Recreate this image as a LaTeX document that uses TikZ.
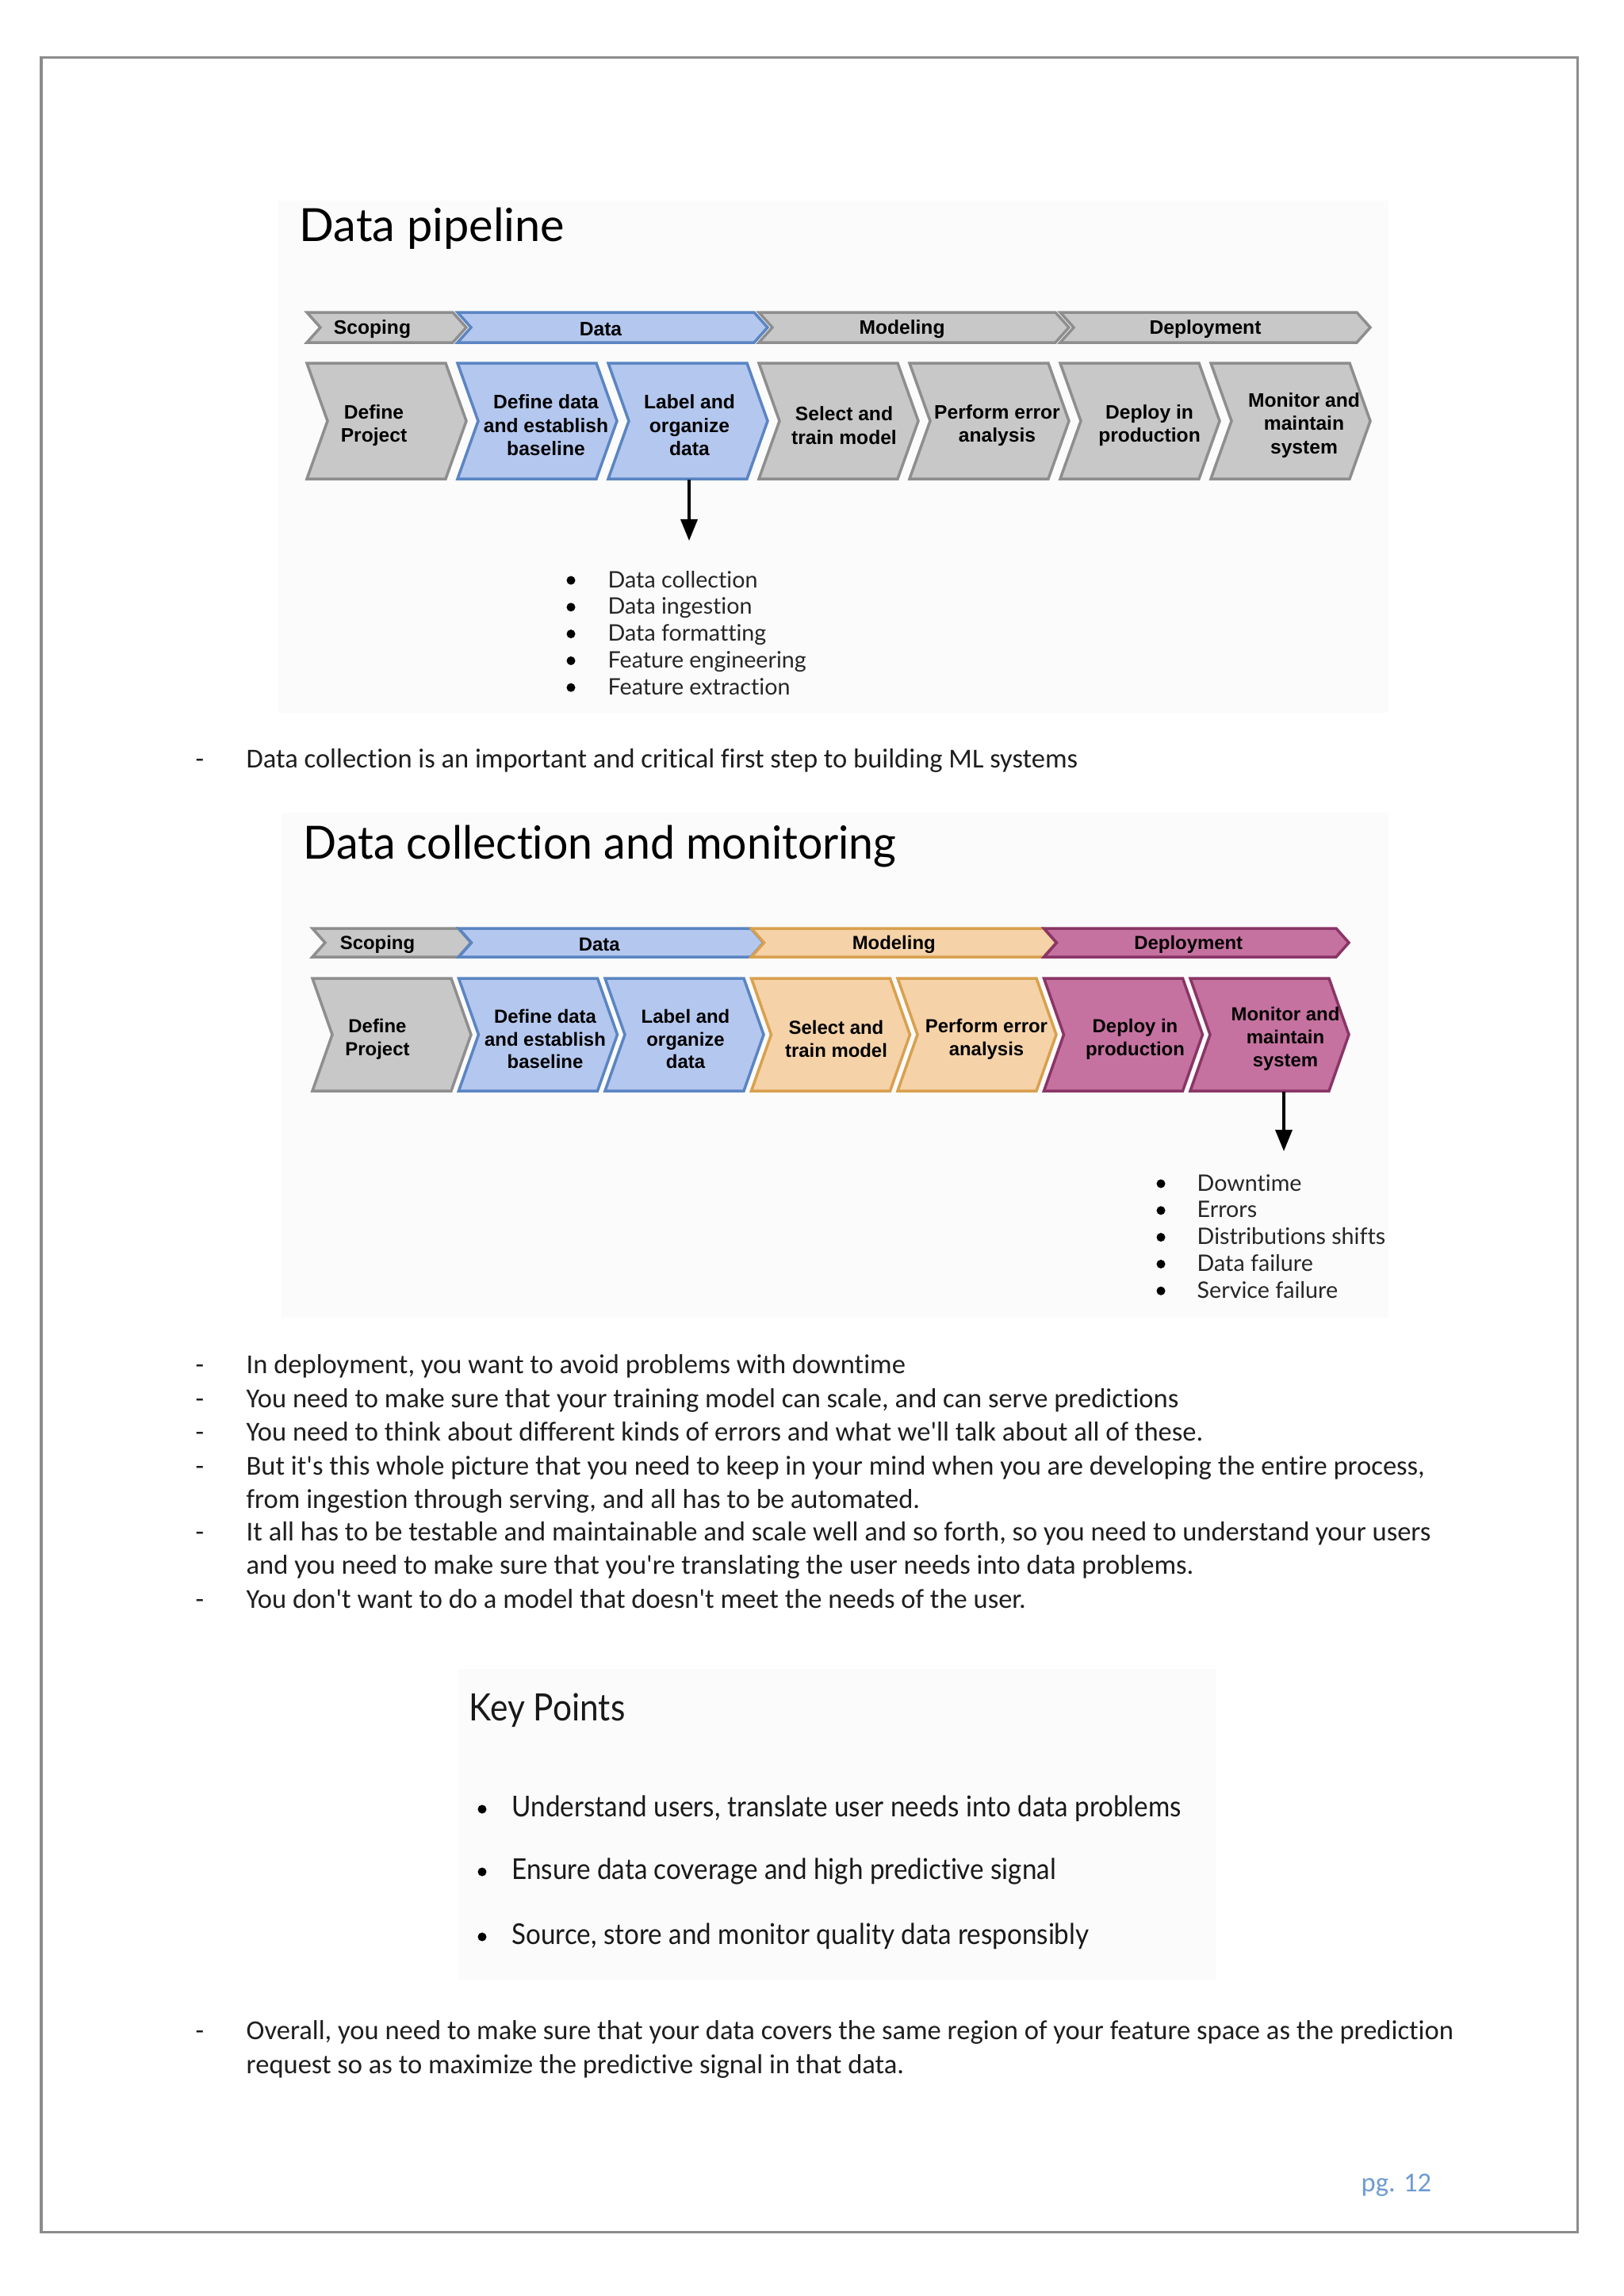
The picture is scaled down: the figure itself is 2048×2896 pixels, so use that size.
\documentclass[tikz,border=0pt]{standalone}
\usepackage{fontspec}
\defaultfontfeatures{Ligatures=CommonOff}
\setmainfont{Carlito}
\newfontfamily\latofont{Lato}
\newfontfamily\latotitle{Lato}[FakeStretch=0.96]
\newfontfamily\latocond{Lato}[FakeStretch=0.894]
\newfontfamily\latokey{Lato}[FakeStretch=0.916]
\newfontfamily\arialfont{Liberation Sans}
\usetikzlibrary{arrows.meta}

\definecolor{grayfill}{HTML}{C8C8C8}
\definecolor{grayline}{HTML}{8E8E8E}
\definecolor{bluefill}{HTML}{B4C7EE}
\definecolor{blueline}{HTML}{5B85C2}
\definecolor{orangefill}{HTML}{F5D2A8}
\definecolor{orangeline}{HTML}{D9A04E}
\definecolor{magfill}{HTML}{C672A0}
\definecolor{magline}{HTML}{8A3566}
\definecolor{imgbg}{HTML}{FBFBFB}
\definecolor{pageborder}{HTML}{8C8C8C}
\definecolor{pgblue}{HTML}{6E9BD2}
\definecolor{bodytext}{HTML}{1E1E1E}

\newcommand\bodyfont{\fontsize{9.82pt}{12.1pt}\selectfont}
\newcommand\titlefontA{\latofont\fontsize{16.4pt}{20pt}\selectfont}
\newcommand\titlefontB{\latotitle\fontsize{16.4pt}{20pt}\selectfont}
\newcommand\listfont{\latofont\fontsize{8.15pt}{10pt}\selectfont}
\newcommand\chevfontA{\arialfont\bfseries\fontsize{7pt}{8.4pt}\selectfont}
\newcommand\chevfontB{\arialfont\bfseries\fontsize{6.8pt}{8.2pt}\selectfont}
\newcommand\keytitlefont{\latocond\fontsize{13.5pt}{16pt}\selectfont}
\newcommand\keyfont{\latokey\fontsize{10.3pt}{12pt}\selectfont}
\newcommand\ap{\textquotesingle}

% #1 name, #2 left x, #3 top y, #4 width, #5 height, #6 tip depth, #7 shape style, #8 text offset, #9 text
\newcommand\chevron[9]{%
  \path[#7] (#2,#3) -- ++({#4-#6},0) -- ++(#6,{#5/2}) -- ++({-#6},{#5/2}) -- ++({#6-#4},0) -- ++(#6,{-#5/2}) -- cycle;
  \node[chevtext, minimum height={#5*0.01cm}] (#1) at ({#2+#4/2+#8},{#3+#5/2}) {#9};
}

\tikzset{
  grayshape/.style={fill=grayfill, draw=grayline, line width=1pt, line join=miter},
  blueshape/.style={fill=bluefill, draw=blueline, line width=1pt, line join=miter},
  orangeshape/.style={fill=orangefill, draw=orangeline, line width=1pt, line join=miter},
  magshape/.style={fill=magfill, draw=magline, line width=1pt, line join=miter},
  chevtext/.style={inner sep=0pt, align=center, text=black},
  phaserow/.style={chevtext/.append style={yshift=-0.02cm}},
  steprow/.style={chevtext/.append style={yshift=-0.055cm}},
  bodyline/.style={font=\bodyfont, anchor=base west, inner sep=0pt, text=bodytext},
  listline/.style={font=\listfont, anchor=base west, inner sep=0pt, text=black!85},
  keyline/.style={font=\keyfont, anchor=base west, inner sep=0pt, text=black!90},
  bulletdot/.style={circle, fill=black, inner sep=0pt, minimum size=0.11cm},
  arr/.style={line width=0.035cm, -{Triangle[width=0.21cm,length=0.27cm]}},
}

\begin{document}
\begin{tikzpicture}[x=0.01cm, y=-0.01cm]
\useasboundingbox (0,0) rectangle (2048,2896);
\fill[white] (0,0) rectangle (2048,2896);
\draw[pageborder, line width=0.03cm] (52,72) rectangle (1989,2815);

% image backgrounds
\fill[imgbg] (351,253) rectangle (1751,899);
\fill[imgbg] (355,1025) rectangle (1751,1662);
\fill[imgbg] (578,2105) rectangle (1533,2497);

% ---------- Diagram 1 ----------
\node[font=\titlefontA, anchor=base west, inner sep=0pt] (t1) at (377,304) {Data pipeline};
\begin{scope}[chevtext/.append style={font=\chevfontA}]
\begin{scope}[phaserow]
\chevron{p1a}{387}{394}{201}{38}{17}{grayshape}{-18}{Scoping}
\chevron{p1b}{577}{394}{391}{38}{17}{blueshape}{-15}{Data}
\chevron{p1c}{957}{394}{391}{38}{17}{grayshape}{-15}{Modeling}
\chevron{p1d}{1337}{394}{391}{38}{17}{grayshape}{-12.5}{Deployment}
\end{scope}
\begin{scope}[steprow]
\chevron{c1a}{387}{458}{201}{146}{26}{grayshape}{-16}{Define\\Project}
\chevron{c1b}{577}{458}{201}{146}{26}{blueshape}{11}{Define data\\and establish\\baseline}
\chevron{c1c}{767}{458}{201}{146}{26}{blueshape}{2}{Label and\\organize\\data}
\chevron{c1d}{957}{458}{201}{146}{26}{grayshape}{7}{Select and\\train model}
\chevron{c1e}{1147}{458}{201}{146}{26}{grayshape}{10}{Perform error\\analysis}
\chevron{c1f}{1337}{458}{201}{146}{26}{grayshape}{12}{Deploy in\\production}
\chevron{c1g}{1527}{458}{201}{146}{26}{grayshape}{17}{Monitor and\\maintain\\system}
\end{scope}
\end{scope}
\coordinate (a1end) at (869,682);
\draw[arr] ([yshift=0.055cm]c1c.south -| a1end) -- (a1end);
\foreach \t [count=\i] in {Data collection, Data ingestion, Data formatting, Feature engineering, Feature extraction} {
  \node[listline] (l1t\i) at (766, {741 + (\i-1)*33.8}) {\t};
  \node[bulletdot] (l1b\i) at (720, {741 - 9 + (\i-1)*33.8}) {};
}

\node[bodyline] (d1) at (246,968) {-};
\node[bodyline] (b1) at (310,968) {Data collection is an important and critical first step to building ML systems};

% ---------- Diagram 2 ----------
\node[font=\titlefontB, anchor=base west, inner sep=0pt] (t2) at (382,1083) {Data collection and monitoring};
\begin{scope}[chevtext/.append style={font=\chevfontB}]
\begin{scope}[phaserow]
\chevron{p2a}{394}{1171}{200}{36}{16}{grayshape}{-18}{Scoping}
\chevron{p2b}{578.5}{1171}{384.5}{36}{16}{blueshape}{-15}{Data}
\chevron{p2c}{947.5}{1171}{384.5}{36}{16}{orangeshape}{-12.5}{Modeling}
\chevron{p2d}{1316.5}{1171}{384.5}{36}{16}{magshape}{-10}{Deployment}
\end{scope}
\begin{scope}[steprow]
\chevron{c2a}{394}{1234}{200}{142}{25}{grayshape}{-18}{Define\\Project}
\chevron{c2b}{578.5}{1234}{200}{142}{25}{blueshape}{9}{Define data\\and establish\\baseline}
\chevron{c2c}{763}{1234}{200}{142}{25}{blueshape}{1.5}{Label and\\organize\\data}
\chevron{c2d}{947.5}{1234}{200}{142}{25}{orangeshape}{7}{Select and\\train model}
\chevron{c2e}{1132}{1234}{200}{142}{25}{orangeshape}{12}{Perform error\\analysis}
\chevron{c2f}{1316.5}{1234}{200}{142}{25}{magshape}{15}{Deploy in\\production}
\chevron{c2g}{1501}{1234}{200}{142}{25}{magshape}{20}{Monitor and\\maintain\\system}
\end{scope}
\end{scope}
\coordinate (a2end) at (1619,1452);
\draw[arr] ([yshift=0.055cm]c2g.south -| a2end) -- (a2end);
\foreach \t [count=\i] in {Downtime, Errors, Distributions shifts, Data failure, Service failure} {
  \node[listline] (l2t\i) at (1509, {1502 + (\i-1)*33.8}) {\t};
  \node[bulletdot] (l2b\i) at (1464, {1502 - 9 + (\i-1)*33.8}) {};
}

% ---------- body bullets ----------
\node[bodyline] (d2) at (246,1732) {-};
\node[bodyline] (b2) at (310,1732) {In deployment, you want to avoid problems with downtime};
\node[bodyline] (d3) at (246,1775) {-};
\node[bodyline] (b3) at (310,1775) {You need to make sure that your training model can scale, and can serve predictions};
\node[bodyline] (d4) at (246,1817) {-};
\node[bodyline] (b4) at (310,1817) {You need to think about different kinds of errors and what we\ap ll talk about all of these.};
\node[bodyline] (d5) at (246,1860) {-};
\node[bodyline] (b5) at (310,1860) {But it\ap s this whole picture that you need to keep in your mind when you are developing the entire process,};
\node[bodyline] (b5b) at (310,1902) {from ingestion through serving, and all has to be automated.};
\node[bodyline] (d6) at (246,1943) {-};
\node[bodyline] (b6) at (310,1943) {It all has to be testable and maintainable and scale well and so forth, so you need to understand your users};
\node[bodyline] (b6b) at (310,1985) {and you need to make sure that you\ap re translating the user needs into data problems.};
\node[bodyline] (d7) at (246,2028) {-};
\node[bodyline] (b7) at (310,2028) {You don\ap t want to do a model that doesn\ap t meet the needs of the user.};

% ---------- Key points ----------
\node[font=\keytitlefont, anchor=base west, inner sep=0pt, text=black!90] (kt) at (591,2170) {Key Points};
\node[keyline] (k1) at (645,2291) {Understand users, translate user needs into data problems};
\node[bulletdot] (kb1) at (608,2282) {};
\node[keyline] (k2) at (645,2370) {Ensure data coverage and high predictive signal};
\node[bulletdot] (kb2) at (608,2361) {};
\node[keyline] (k3) at (645,2452) {Source, store and monitor quality data responsibly};
\node[bulletdot] (kb3) at (608,2443) {};

\node[bodyline] (d8) at (246,2572) {-};
\node[bodyline] (b8) at (310,2572) {Overall, you need to make sure that your data covers the same region of your feature space as the prediction};
\node[bodyline] (b8b) at (310,2615) {request so as to maximize the predictive signal in that data.};

\node[bodyline, text=pgblue] (pg) at (1716,2764) {pg. 12};
\end{tikzpicture}
\end{document}
